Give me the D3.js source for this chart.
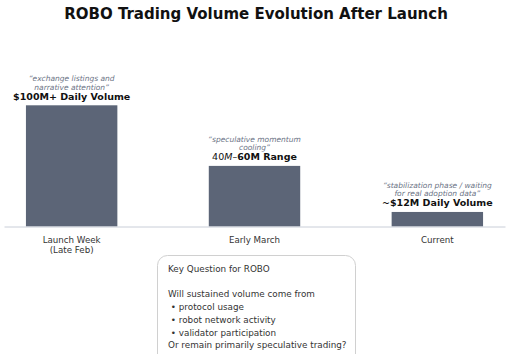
<!DOCTYPE html>
<html>
<head>
<meta charset="utf-8">
<script src="https://cdn.jsdelivr.net/npm/d3@7"></script>
<style>
  html, body { margin: 0; padding: 0; background: #fff; }
  svg { display: block; font-family: "DejaVu Sans", sans-serif; }
</style>
</head>
<body>
<svg id="chart" width="512" height="354"></svg>
<script>
const categories = ["Launch Week\n(Late Feb)", "Early March", "Current"];
const volumes = [100, 50, 12];
const notes = [
  ["\u201cexchange listings and", "narrative attention\u201d"],
  ["\u201cspeculative momentum", "cooling\u201d"],
  ["\u201cstabilization phase / waiting", "for real adoption data\u201d"]
];
const labels = ["$100M+ Daily Volume", "40M\u201360M Range", "~$12M Daily Volume"];
const boxLines = [
  "Key Question for ROBO",
  "",
  "Will sustained volume come from",
  " \u2022 protocol usage",
  " \u2022 robot network activity",
  " \u2022 validator participation",
  "Or remain primarily speculative trading?"
];
const title = "ROBO Trading Volume Evolution After Launch";

const svg = d3.select("#chart");
const baseY = 226.5;
const x = d3.scaleLinear().domain([-0.37, 2.37]).range([4, 505]);
const y = d3.scaleLinear().domain([0, 100]).range([baseY, 105.3]);
const barW = x(0.5) - x(0);

// title
svg.append("text").attr("x", 256).attr("y", 19).attr("text-anchor", "middle")
  .attr("font-size", 15).attr("font-weight", "bold").attr("fill", "#111")
  .text(title);

// bars
svg.selectAll("rect.bar").data(volumes).join("rect")
  .attr("class", "bar")
  .attr("x", (d, i) => x(i) - barW / 2)
  .attr("width", barW)
  .attr("y", d => y(d))
  .attr("height", d => baseY - y(d))
  .attr("fill", "#5c6577");

// baseline axis
const axis = d3.axisBottom(x).tickValues([0, 1, 2]).tickSize(0).tickFormat("");
const ag = svg.append("g").attr("transform", `translate(0,${baseY})`).call(axis);
ag.select(".domain").attr("stroke", "#c9ced8").attr("stroke-width", 1);

// tick labels
categories.forEach((c, i) => {
  const t = svg.append("text").attr("x", x(i)).attr("y", 243)
    .attr("text-anchor", "middle").attr("font-size", 8.7).attr("fill", "#333");
  c.split("\n").forEach((ln, j) => {
    t.append("tspan").attr("x", x(i)).attr("dy", j === 0 ? 0 : 9.5).text(ln);
  });
});

// annotations
volumes.forEach((v, i) => {
  const top = y(v);
  const lb = top - 5.5;
  const lab = svg.append("text").attr("x", x(i)).attr("y", lb)
    .attr("text-anchor", "middle").attr("font-size", 9.5).attr("fill", "#111");
  if (i === 1) {
    lab.append("tspan").text("40");
    lab.append("tspan").attr("font-style", "italic").text("M");
    lab.append("tspan").text("\u2013");
    lab.append("tspan").attr("font-weight", "bold").text("60M Range");
  } else {
    lab.attr("font-weight", "bold").text(labels[i]);
  }
  const nt = svg.append("text").attr("x", x(i)).attr("y", lb - 18.5)
    .attr("text-anchor", "middle").attr("font-size", 7.5)
    .attr("font-style", "italic").attr("fill", "#6b7385");
  notes[i].forEach((ln, j) => {
    nt.append("tspan").attr("x", x(i)).attr("dy", j === 0 ? 0 : 8.5).text(ln);
  });
});

// question box
svg.append("rect").attr("x", 157.5).attr("y", 255.5).attr("width", 198).attr("height", 120)
  .attr("rx", 10).attr("ry", 10).attr("fill", "#fff").attr("stroke", "#d0d0d0").attr("stroke-width", 1);
const bt = svg.append("text").attr("x", 168).attr("y", 271.5).attr("font-size", 8.8).attr("fill", "#333");
boxLines.forEach((ln, j) => {
  bt.append("tspan").attr("x", 168).attr("dy", j === 0 ? 0 : 12.8).attr("xml:space", "preserve").text(ln === "" ? "\u00a0" : ln);
});
</script>
</body>
</html>
